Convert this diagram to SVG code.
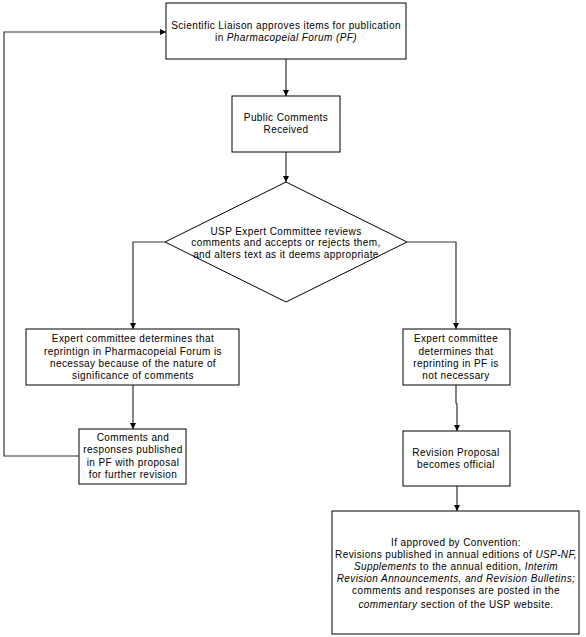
<svg xmlns="http://www.w3.org/2000/svg" width="586" height="637" viewBox="0 0 586 637">
<style>
.box{fill:#fff;stroke:#000;stroke-width:1}
.t{font-family:"Liberation Sans",Arial,sans-serif;font-size:10px;fill:#000;text-anchor:middle;letter-spacing:0.4px}
.i{font-style:italic}
.c{fill:none;stroke:#333;stroke-width:1.2}
</style>
<defs>
<marker id="ah" viewBox="0 0 6 6" refX="6" refY="3" markerWidth="6" markerHeight="6" markerUnits="userSpaceOnUse" orient="auto">
<path d="M0,0 L6,3 L0,6 Z" fill="#000"/>
</marker>
</defs>
<rect width="586" height="637" fill="#fff"/>
<g id="connectors">
<line class="c" x1="286" y1="59" x2="286" y2="96" marker-end="url(#ah)"/>
<line class="c" x1="286" y1="152" x2="286" y2="182" marker-end="url(#ah)"/>
<polyline class="c" points="165,242 133,242 133,329" marker-end="url(#ah)"/>
<polyline class="c" points="407,242 456,242 456,329" marker-end="url(#ah)"/>
<line class="c" x1="133" y1="385" x2="133" y2="429" marker-end="url(#ah)"/>
<polyline class="c" points="79,456 4,456 4,32 166,32" marker-end="url(#ah)"/>
<polyline class="c" points="456,385 456,403 457,404 457,431" marker-end="url(#ah)"/>
<line class="c" x1="457" y1="486" x2="457" y2="511" marker-end="url(#ah)"/>
</g>
<g id="n1">
<rect class="box" x="166" y="3" width="240" height="56"/>
<text class="t" x="286" y="29">Scientific Liaison approves items for publication</text>
<text class="t" x="286" y="41">in <tspan class="i">Pharmacopeial Forum (PF)</tspan></text>
</g>
<g id="n2">
<rect class="box" x="232" y="96" width="108" height="56"/>
<text class="t" x="286" y="121">Public Comments</text>
<text class="t" x="286" y="133">Received</text>
</g>
<g id="n3">
<polygon class="box" points="286,182 407,242 286,302 165,242"/>
<text class="t" x="286" y="235">USP Expert Committee reviews</text>
<text class="t" x="286" y="246">comments and accepts or rejects them,</text>
<text class="t" x="286" y="258">and alters text as it deems appropriate</text>
</g>
<g id="n4">
<rect class="box" x="26" y="329" width="213" height="56"/>
<text class="t" x="133" y="342">Expert committee determines that</text>
<text class="t" x="133" y="355">reprintign in Pharmacopeial Forum is</text>
<text class="t" x="133" y="367">necessay because of the nature of</text>
<text class="t" x="133" y="379">significance of comments</text>
</g>
<g id="n5">
<rect class="box" x="79" y="429" width="107" height="55"/>
<text class="t" x="133" y="441">Comments and</text>
<text class="t" x="133" y="453">responses published</text>
<text class="t" x="133" y="466">in PF with proposal</text>
<text class="t" x="133" y="478">for further revision</text>
</g>
<g id="n6">
<rect class="box" x="403" y="329" width="107" height="56"/>
<text class="t" x="456" y="342">Expert committee</text>
<text class="t" x="456" y="355">determines that</text>
<text class="t" x="456" y="367">reprinting in PF is</text>
<text class="t" x="456" y="379">not necessary</text>
</g>
<g id="n7">
<rect class="box" x="403" y="431" width="107" height="55"/>
<text class="t" x="456" y="456">Revision Proposal</text>
<text class="t" x="456" y="468">becomes official</text>
</g>
<g id="n8">
<rect class="box" x="332" y="511" width="247" height="123"/>
<text class="t" x="456" y="546">If approved by Convention:</text>
<text class="t" x="456" y="558">Revisions published in annual editions of <tspan class="i">USP-NF,</tspan></text>
<text class="t" x="456" y="570"><tspan class="i">Supplements</tspan> to the annual edition, <tspan class="i">Interim</tspan></text>
<text class="t i" x="456" y="582">Revision Announcements, and Revision Bulletins;</text>
<text class="t" x="456" y="594">comments and responses are posted in the</text>
<text class="t" x="456" y="608"><tspan class="i">commentary</tspan> section of the USP website.</text>
</g>
</svg>
